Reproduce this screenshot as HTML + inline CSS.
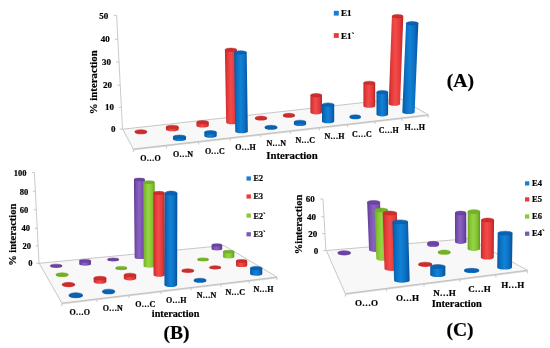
<!DOCTYPE html>
<html><head><meta charset="utf-8"><style>
html,body{margin:0;padding:0;background:#fff;}
svg{display:block;}
text{fill:#000;stroke:#000;stroke-width:0.2px;}
</style></head><body>
<svg width="550" height="348" viewBox="0 0 550 348" style="font-family:'Liberation Serif','Times New Roman',serif;font-weight:bold">
<rect width="550" height="348" fill="#fff"/>
<defs><linearGradient id="gb" x1="0" y1="0" x2="1" y2="0"><stop offset="0" stop-color="#0a56a2"/><stop offset="0.22" stop-color="#0b70c2"/><stop offset="0.48" stop-color="#1282d6"/><stop offset="0.75" stop-color="#0c70c2"/><stop offset="1" stop-color="#094f98"/></linearGradient><linearGradient id="gr" x1="0" y1="0" x2="1" y2="0"><stop offset="0" stop-color="#c22a2a"/><stop offset="0.22" stop-color="#e53b3b"/><stop offset="0.45" stop-color="#f34a4a"/><stop offset="0.75" stop-color="#e43a3a"/><stop offset="1" stop-color="#b82626"/></linearGradient><linearGradient id="gg" x1="0" y1="0" x2="1" y2="0"><stop offset="0" stop-color="#6aa622"/><stop offset="0.22" stop-color="#86c634"/><stop offset="0.45" stop-color="#98d446"/><stop offset="0.75" stop-color="#84c332"/><stop offset="1" stop-color="#5f9a1c"/></linearGradient><linearGradient id="gp" x1="0" y1="0" x2="1" y2="0"><stop offset="0" stop-color="#5f3a94"/><stop offset="0.22" stop-color="#7a52b0"/><stop offset="0.45" stop-color="#8a62c0"/><stop offset="0.75" stop-color="#774fae"/><stop offset="1" stop-color="#563489"/></linearGradient></defs>
<polygon points="133.30,149.00 428.30,114.80 428.30,115.80 133.30,150.00" fill="#dcdcdc" stroke="#c4c4c4" stroke-width="0.5"/><polygon points="122.70,129.20 400.00,98.50 428.30,114.80 133.30,149.00" fill="#f8f8f8" stroke="#b6b6b6" stroke-width="0.75"/><line x1="116.60" y1="15.40" x2="122.50" y2="129.20" stroke="#bdbdbd" stroke-width="0.8"/><line x1="113.80" y1="15.40" x2="116.60" y2="15.40" stroke="#bdbdbd" stroke-width="0.8"/><text x="108.20" y="18.60" font-size="9" text-anchor="end" >50</text><line x1="115.04" y1="39.30" x2="117.84" y2="39.30" stroke="#bdbdbd" stroke-width="0.8"/><text x="109.74" y="41.90" font-size="9" text-anchor="end" >40</text><line x1="116.22" y1="62.00" x2="119.02" y2="62.00" stroke="#bdbdbd" stroke-width="0.8"/><text x="110.92" y="65.20" font-size="9" text-anchor="end" >30</text><line x1="117.42" y1="85.20" x2="120.22" y2="85.20" stroke="#bdbdbd" stroke-width="0.8"/><text x="112.02" y="87.90" font-size="9" text-anchor="end" >20</text><line x1="118.56" y1="107.30" x2="121.36" y2="107.30" stroke="#bdbdbd" stroke-width="0.8"/><text x="114.06" y="109.50" font-size="9" text-anchor="end" >10</text><line x1="119.69" y1="129.10" x2="122.49" y2="129.10" stroke="#bdbdbd" stroke-width="0.8"/><text x="115.39" y="131.80" font-size="9" text-anchor="end" >0</text><text x="0.00" y="0.00" font-size="10.8" text-anchor="middle" transform="translate(97.3,82.2) rotate(-90)">% interaction</text><text x="150.40" y="161.30" font-size="8" text-anchor="middle" >O…O</text><text x="183.00" y="157.00" font-size="8" text-anchor="middle" >O…N</text><text x="214.90" y="154.20" font-size="8" text-anchor="middle" >O…C</text><text x="245.50" y="150.00" font-size="8" text-anchor="middle" >O…H</text><text x="276.30" y="146.20" font-size="8" text-anchor="middle" >N…N</text><text x="305.20" y="142.70" font-size="8" text-anchor="middle" >N…C</text><text x="334.40" y="139.10" font-size="8" text-anchor="middle" >N…H</text><text x="361.90" y="136.50" font-size="8" text-anchor="middle" >C…C</text><text x="388.80" y="133.20" font-size="8" text-anchor="middle" >C…H</text><text x="414.80" y="129.90" font-size="8" text-anchor="middle" >H…H</text><line x1="133.30" y1="150.00" x2="133.30" y2="152.00" stroke="#b0b0b0" stroke-width="0.7"/><line x1="166.50" y1="146.15" x2="166.50" y2="148.15" stroke="#b0b0b0" stroke-width="0.7"/><line x1="198.60" y1="142.43" x2="198.60" y2="144.43" stroke="#b0b0b0" stroke-width="0.7"/><line x1="230.20" y1="138.77" x2="230.20" y2="140.77" stroke="#b0b0b0" stroke-width="0.7"/><line x1="260.70" y1="135.23" x2="260.70" y2="137.23" stroke="#b0b0b0" stroke-width="0.7"/><line x1="290.20" y1="131.81" x2="290.20" y2="133.81" stroke="#b0b0b0" stroke-width="0.7"/><line x1="319.40" y1="128.43" x2="319.40" y2="130.43" stroke="#b0b0b0" stroke-width="0.7"/><line x1="347.40" y1="125.18" x2="347.40" y2="127.18" stroke="#b0b0b0" stroke-width="0.7"/><line x1="375.00" y1="121.98" x2="375.00" y2="123.98" stroke="#b0b0b0" stroke-width="0.7"/><line x1="401.90" y1="118.86" x2="401.90" y2="120.86" stroke="#b0b0b0" stroke-width="0.7"/><line x1="428.30" y1="115.80" x2="428.30" y2="117.80" stroke="#b0b0b0" stroke-width="0.7"/><text x="266.20" y="159.30" font-size="10.8" text-anchor="start" >Interaction</text><rect x="333.8" y="10.8" width="5" height="4.8" fill="#1a7fd4"/><text x="341.10" y="16.30" font-size="9" text-anchor="start" >E1</text><rect x="333.8" y="33.1" width="5" height="4.8" fill="#ee3838"/><text x="341.10" y="38.50" font-size="9" text-anchor="start" >E1`</text><text x="446.80" y="86.60" font-size="19" text-anchor="start" transform="translate(446.8,0) scale(1.03,1) translate(-446.8,0)">(A)</text><path d="M134.75,132.30 L134.75,131.50 L147.05,131.50 L147.05,132.30 A6.15,1.90 0 0 1 134.75,132.30 Z" fill="url(#gr)"/><ellipse cx="140.90" cy="131.50" rx="6.00" ry="1.80" fill="#cc2e2e" stroke="#bc2626" stroke-width="0.5"/><path d="M254.95,118.70 L254.95,117.90 L267.05,117.90 L267.05,118.70 A6.05,1.90 0 0 1 254.95,118.70 Z" fill="url(#gr)"/><ellipse cx="261.00" cy="117.90" rx="5.90" ry="1.80" fill="#cc2e2e" stroke="#bc2626" stroke-width="0.5"/><path d="M283.00,115.90 L283.00,115.10 L294.80,115.10 L294.80,115.90 A5.90,1.90 0 0 1 283.00,115.90 Z" fill="url(#gr)"/><ellipse cx="288.90" cy="115.10" rx="5.75" ry="1.80" fill="#cc2e2e" stroke="#bc2626" stroke-width="0.5"/><path d="M165.90,129.40 L165.90,126.90 L178.70,126.90 L178.70,129.40 A6.40,1.80 0 0 1 165.90,129.40 Z" fill="url(#gr)"/><ellipse cx="172.30" cy="126.90" rx="6.25" ry="1.70" fill="#cc2e2e" stroke="#bc2626" stroke-width="0.5"/><path d="M196.45,125.70 L196.45,122.20 L208.75,122.20 L208.75,125.70 A6.15,1.80 0 0 1 196.45,125.70 Z" fill="url(#gr)"/><ellipse cx="202.60" cy="122.20" rx="6.00" ry="1.70" fill="#cc2e2e" stroke="#bc2626" stroke-width="0.5"/><path d="M226.17,122.50 L224.90,49.80 L236.90,49.80 L238.17,122.50 A6.00,1.80 0 0 1 226.17,122.50 Z" fill="url(#gr)"/><ellipse cx="230.90" cy="49.80" rx="5.85" ry="1.70" fill="#cc2e2e" stroke="#bc2626" stroke-width="0.5"/><path d="M310.40,112.60 L310.40,95.20 L322.00,95.20 L322.00,112.60 A5.80,1.80 0 0 1 310.40,112.60 Z" fill="url(#gr)"/><ellipse cx="316.20" cy="95.20" rx="5.65" ry="1.70" fill="#cc2e2e" stroke="#bc2626" stroke-width="0.5"/><path d="M363.40,106.00 L363.40,82.90 L375.20,82.90 L375.20,106.00 A5.90,1.80 0 0 1 363.40,106.00 Z" fill="url(#gr)"/><ellipse cx="369.30" cy="82.90" rx="5.75" ry="1.70" fill="#cc2e2e" stroke="#bc2626" stroke-width="0.5"/><path d="M388.65,103.90 L391.90,16.20 L403.30,16.20 L400.05,103.90 A5.70,1.80 0 0 1 388.65,103.90 Z" fill="url(#gr)"/><ellipse cx="397.60" cy="16.20" rx="5.55" ry="1.70" fill="#cc2e2e" stroke="#bc2626" stroke-width="0.5"/><path d="M264.75,127.90 L264.75,127.10 L277.25,127.10 L277.25,127.90 A6.25,1.90 0 0 1 264.75,127.90 Z" fill="url(#gb)"/><ellipse cx="271.00" cy="127.10" rx="6.10" ry="1.80" fill="#0c62b2" stroke="#0a56a2" stroke-width="0.5"/><path d="M349.60,117.40 L349.60,116.60 L360.80,116.60 L360.80,117.40 A5.60,1.90 0 0 1 349.60,117.40 Z" fill="url(#gb)"/><ellipse cx="355.20" cy="116.60" rx="5.45" ry="1.80" fill="#0c62b2" stroke="#0a56a2" stroke-width="0.5"/><path d="M173.00,139.30 L173.00,136.80 L186.00,136.80 L186.00,139.30 A6.50,1.80 0 0 1 173.00,139.30 Z" fill="url(#gb)"/><ellipse cx="179.50" cy="136.80" rx="6.35" ry="1.70" fill="#0c62b2" stroke="#0a56a2" stroke-width="0.5"/><path d="M204.30,135.90 L204.30,132.30 L216.70,132.30 L216.70,135.90 A6.20,1.80 0 0 1 204.30,135.90 Z" fill="url(#gb)"/><ellipse cx="210.50" cy="132.30" rx="6.05" ry="1.70" fill="#0c62b2" stroke="#0a56a2" stroke-width="0.5"/><path d="M235.23,131.50 L234.10,52.40 L246.70,52.40 L247.83,131.50 A6.30,1.80 0 0 1 235.23,131.50 Z" fill="url(#gb)"/><ellipse cx="240.40" cy="52.40" rx="6.15" ry="1.70" fill="#0c62b2" stroke="#0a56a2" stroke-width="0.5"/><path d="M293.90,124.20 L293.90,121.90 L306.10,121.90 L306.10,124.20 A6.10,1.80 0 0 1 293.90,124.20 Z" fill="url(#gb)"/><ellipse cx="300.00" cy="121.90" rx="5.95" ry="1.70" fill="#0c62b2" stroke="#0a56a2" stroke-width="0.5"/><path d="M322.00,121.40 L322.00,104.60 L334.20,104.60 L334.20,121.40 A6.10,1.80 0 0 1 322.00,121.40 Z" fill="url(#gb)"/><ellipse cx="328.10" cy="104.60" rx="5.95" ry="1.70" fill="#0c62b2" stroke="#0a56a2" stroke-width="0.5"/><path d="M376.50,114.60 L376.50,92.10 L388.10,92.10 L388.10,114.60 A5.80,1.80 0 0 1 376.50,114.60 Z" fill="url(#gb)"/><ellipse cx="382.30" cy="92.10" rx="5.65" ry="1.70" fill="#0c62b2" stroke="#0a56a2" stroke-width="0.5"/><path d="M402.33,112.20 L406.05,23.30 L418.35,23.30 L414.63,112.20 A6.15,1.80 0 0 1 402.33,112.20 Z" fill="url(#gb)"/><ellipse cx="412.20" cy="23.30" rx="6.00" ry="1.70" fill="#0c62b2" stroke="#0a56a2" stroke-width="0.5"/><polygon points="61.90,303.10 277.00,277.00 277.00,278.00 61.90,304.10" fill="#dcdcdc" stroke="#c4c4c4" stroke-width="0.5"/><polygon points="39.20,263.30 224.00,245.50 277.00,277.00 61.90,303.10" fill="#f8f8f8" stroke="#b6b6b6" stroke-width="0.75"/><line x1="34.40" y1="172.50" x2="39.00" y2="263.30" stroke="#bdbdbd" stroke-width="0.8"/><line x1="31.80" y1="172.50" x2="34.40" y2="172.50" stroke="#bdbdbd" stroke-width="0.8"/><text x="26.60" y="175.50" font-size="8.5" text-anchor="end" >100</text><line x1="32.75" y1="191.30" x2="35.35" y2="191.30" stroke="#bdbdbd" stroke-width="0.8"/><text x="28.15" y="194.80" font-size="8.5" text-anchor="end" >80</text><line x1="33.68" y1="209.70" x2="36.28" y2="209.70" stroke="#bdbdbd" stroke-width="0.8"/><text x="28.28" y="212.70" font-size="8.5" text-anchor="end" >60</text><line x1="34.62" y1="228.20" x2="37.22" y2="228.20" stroke="#bdbdbd" stroke-width="0.8"/><text x="29.92" y="231.20" font-size="8.5" text-anchor="end" >40</text><line x1="35.52" y1="245.90" x2="38.12" y2="245.90" stroke="#bdbdbd" stroke-width="0.8"/><text x="30.92" y="248.90" font-size="8.5" text-anchor="end" >20</text><line x1="36.41" y1="263.40" x2="39.01" y2="263.40" stroke="#bdbdbd" stroke-width="0.8"/><text x="32.61" y="266.40" font-size="8.5" text-anchor="end" >0</text><text x="0.00" y="0.00" font-size="10.5" text-anchor="middle" transform="translate(15.5,234.7) rotate(-90)">% interaction</text><text x="79.70" y="314.70" font-size="8" text-anchor="middle" >O…O</text><text x="112.70" y="310.60" font-size="8" text-anchor="middle" >O…N</text><text x="145.20" y="306.60" font-size="8" text-anchor="middle" >O…C</text><text x="176.20" y="302.50" font-size="8" text-anchor="middle" >O…H</text><text x="206.50" y="298.00" font-size="8" text-anchor="middle" >N…N</text><text x="235.30" y="295.00" font-size="8" text-anchor="middle" >N…C</text><text x="263.50" y="291.70" font-size="8" text-anchor="middle" >N…H</text><line x1="61.90" y1="304.10" x2="61.90" y2="306.10" stroke="#b0b0b0" stroke-width="0.7"/><line x1="97.00" y1="299.84" x2="97.00" y2="301.84" stroke="#b0b0b0" stroke-width="0.7"/><line x1="129.00" y1="295.96" x2="129.00" y2="297.96" stroke="#b0b0b0" stroke-width="0.7"/><line x1="161.00" y1="292.08" x2="161.00" y2="294.08" stroke="#b0b0b0" stroke-width="0.7"/><line x1="191.00" y1="288.44" x2="191.00" y2="290.44" stroke="#b0b0b0" stroke-width="0.7"/><line x1="220.80" y1="284.82" x2="220.80" y2="286.82" stroke="#b0b0b0" stroke-width="0.7"/><line x1="249.20" y1="281.37" x2="249.20" y2="283.37" stroke="#b0b0b0" stroke-width="0.7"/><line x1="277.00" y1="278.00" x2="277.00" y2="280.00" stroke="#b0b0b0" stroke-width="0.7"/><text x="151.80" y="317.00" font-size="10.2" text-anchor="start" >interaction</text><rect x="246.5" y="176.40" width="4.4" height="4.2" fill="#1a7fd4"/><text x="253.60" y="181.40" font-size="8" text-anchor="start" >E2</text><rect x="246.5" y="194.40" width="4.4" height="4.2" fill="#ee3838"/><text x="253.60" y="199.40" font-size="8" text-anchor="start" >E3</text><rect x="246.5" y="213.50" width="4.4" height="4.2" fill="#8cc63a"/><text x="253.60" y="218.50" font-size="8" text-anchor="start" >E2`</text><rect x="246.5" y="232.20" width="4.4" height="4.2" fill="#7d55b5"/><text x="253.60" y="237.20" font-size="8" text-anchor="start" >E3`</text><text x="163.40" y="339.00" font-size="19" text-anchor="start" transform="translate(163.4,0) scale(1.03,1) translate(-163.4,0)">(B)</text><path d="M50.30,266.40 L50.30,265.60 L62.10,265.60 L62.10,266.40 A5.90,1.55 0 0 1 50.30,266.40 Z" fill="url(#gp)"/><ellipse cx="56.20" cy="265.60" rx="5.75" ry="1.45" fill="#6c44a4" stroke="#5e3892" stroke-width="0.5"/><path d="M79.25,264.23 L79.25,260.77 L90.95,260.77 L90.95,264.23 A5.85,1.47 0 0 1 79.25,264.23 Z" fill="url(#gp)"/><ellipse cx="85.10" cy="260.77" rx="5.70" ry="1.37" fill="#6c44a4" stroke="#5e3892" stroke-width="0.5"/><path d="M107.40,260.10 L107.40,259.30 L119.00,259.30 L119.00,260.10 A5.80,1.40 0 0 1 107.40,260.10 Z" fill="url(#gp)"/><ellipse cx="113.20" cy="259.30" rx="5.65" ry="1.30" fill="#6c44a4" stroke="#5e3892" stroke-width="0.5"/><path d="M134.67,257.70 L133.90,179.40 L144.90,179.40 L145.67,257.70 A5.50,1.40 0 0 1 134.67,257.70 Z" fill="url(#gp)"/><ellipse cx="139.40" cy="179.40" rx="5.35" ry="1.30" fill="#6c44a4" stroke="#5e3892" stroke-width="0.5"/><path d="M211.60,249.00 L211.60,245.00 L222.20,245.00 L222.20,249.00 A5.30,1.40 0 0 1 211.60,249.00 Z" fill="url(#gp)"/><ellipse cx="216.90" cy="245.00" rx="5.15" ry="1.30" fill="#6c44a4" stroke="#5e3892" stroke-width="0.5"/><path d="M55.90,275.30 L55.90,274.50 L68.30,274.50 L68.30,275.30 A6.20,1.80 0 0 1 55.90,275.30 Z" fill="url(#gg)"/><ellipse cx="62.10" cy="274.50" rx="6.05" ry="1.70" fill="#74b22a" stroke="#66a020" stroke-width="0.5"/><path d="M115.50,268.70 L115.50,267.90 L127.10,267.90 L127.10,268.70 A5.80,1.61 0 0 1 115.50,268.70 Z" fill="url(#gg)"/><ellipse cx="121.30" cy="267.90" rx="5.65" ry="1.51" fill="#74b22a" stroke="#66a020" stroke-width="0.5"/><path d="M143.62,266.18 L143.10,182.22 L154.70,182.22 L155.22,266.18 A5.80,1.52 0 0 1 143.62,266.18 Z" fill="url(#gg)"/><ellipse cx="148.90" cy="182.22" rx="5.65" ry="1.42" fill="#74b22a" stroke="#66a020" stroke-width="0.5"/><path d="M197.30,260.00 L197.30,259.20 L208.70,259.20 L208.70,260.00 A5.70,1.40 0 0 1 197.30,260.00 Z" fill="url(#gg)"/><ellipse cx="203.00" cy="259.20" rx="5.55" ry="1.30" fill="#74b22a" stroke="#66a020" stroke-width="0.5"/><path d="M223.10,257.10 L223.10,251.60 L234.30,251.60 L234.30,257.10 A5.60,1.40 0 0 1 223.10,257.10 Z" fill="url(#gg)"/><ellipse cx="228.70" cy="251.60" rx="5.45" ry="1.30" fill="#74b22a" stroke="#66a020" stroke-width="0.5"/><path d="M62.00,285.10 L62.00,284.30 L75.00,284.30 L75.00,285.10 A6.50,2.07 0 0 1 62.00,285.10 Z" fill="url(#gr)"/><ellipse cx="68.50" cy="284.30" rx="6.35" ry="1.97" fill="#cc2e2e" stroke="#bc2626" stroke-width="0.5"/><path d="M93.60,281.83 L93.60,278.17 L106.40,278.17 L106.40,281.83 A6.40,1.97 0 0 1 93.60,281.83 Z" fill="url(#gr)"/><ellipse cx="100.00" cy="278.17" rx="6.25" ry="1.87" fill="#cc2e2e" stroke="#bc2626" stroke-width="0.5"/><path d="M123.80,278.53 L123.80,274.97 L136.20,274.97 L136.20,278.53 A6.20,1.87 0 0 1 123.80,278.53 Z" fill="url(#gr)"/><ellipse cx="130.00" cy="274.97" rx="6.05" ry="1.77" fill="#cc2e2e" stroke="#bc2626" stroke-width="0.5"/><path d="M153.54,274.93 L153.35,192.97 L164.65,192.97 L164.84,274.93 A5.65,1.77 0 0 1 153.54,274.93 Z" fill="url(#gr)"/><ellipse cx="159.00" cy="192.97" rx="5.50" ry="1.67" fill="#cc2e2e" stroke="#bc2626" stroke-width="0.5"/><path d="M181.70,271.20 L181.70,270.40 L193.90,270.40 L193.90,271.20 A6.10,1.68 0 0 1 181.70,271.20 Z" fill="url(#gr)"/><ellipse cx="187.80" cy="270.40" rx="5.95" ry="1.58" fill="#cc2e2e" stroke="#bc2626" stroke-width="0.5"/><path d="M209.35,268.00 L209.35,267.20 L221.05,267.20 L221.05,268.00 A5.85,1.59 0 0 1 209.35,268.00 Z" fill="url(#gr)"/><ellipse cx="215.20" cy="267.20" rx="5.70" ry="1.49" fill="#cc2e2e" stroke="#bc2626" stroke-width="0.5"/><path d="M236.00,265.59 L236.00,261.01 L247.20,261.01 L247.20,265.59 A5.60,1.51 0 0 1 236.00,265.59 Z" fill="url(#gr)"/><ellipse cx="241.60" cy="261.01" rx="5.45" ry="1.41" fill="#cc2e2e" stroke="#bc2626" stroke-width="0.5"/><path d="M68.80,295.80 L68.80,295.00 L82.80,295.00 L82.80,295.80 A7.00,2.36 0 0 1 68.80,295.80 Z" fill="url(#gb)"/><ellipse cx="75.80" cy="295.00" rx="6.85" ry="2.26" fill="#0c62b2" stroke="#0a56a2" stroke-width="0.5"/><path d="M102.20,292.10 L102.20,291.30 L115.00,291.30 L115.00,292.10 A6.40,2.26 0 0 1 102.20,292.10 Z" fill="url(#gb)"/><ellipse cx="108.60" cy="291.30" rx="6.25" ry="2.16" fill="#0c62b2" stroke="#0a56a2" stroke-width="0.5"/><path d="M164.44,285.04 L164.65,193.06 L177.35,193.06 L177.14,285.04 A6.35,2.06 0 0 1 164.44,285.04 Z" fill="url(#gb)"/><ellipse cx="171.00" cy="193.06" rx="6.20" ry="1.96" fill="#0c62b2" stroke="#0a56a2" stroke-width="0.5"/><path d="M193.80,280.90 L193.80,280.10 L206.20,280.10 L206.20,280.90 A6.20,1.95 0 0 1 193.80,280.90 Z" fill="url(#gb)"/><ellipse cx="200.00" cy="280.10" rx="6.05" ry="1.85" fill="#0c62b2" stroke="#0a56a2" stroke-width="0.5"/><path d="M250.10,274.05 L250.10,268.05 L262.30,268.05 L262.30,274.05 A6.10,1.75 0 0 1 250.10,274.05 Z" fill="url(#gb)"/><ellipse cx="256.20" cy="268.05" rx="5.95" ry="1.65" fill="#0c62b2" stroke="#0a56a2" stroke-width="0.5"/><polygon points="345.30,293.60 527.40,270.20 527.40,271.20 345.30,294.60" fill="#dcdcdc" stroke="#c4c4c4" stroke-width="0.5"/><polygon points="326.30,250.50 469.00,238.60 527.40,270.20 345.30,293.60" fill="#f8f8f8" stroke="#b6b6b6" stroke-width="0.75"/><line x1="323.00" y1="198.90" x2="325.90" y2="250.50" stroke="#bdbdbd" stroke-width="0.8"/><line x1="320.21" y1="199.00" x2="323.01" y2="199.00" stroke="#bdbdbd" stroke-width="0.8"/><text x="314.81" y="202.10" font-size="9" text-anchor="end" >60</text><line x1="321.20" y1="216.70" x2="324.00" y2="216.70" stroke="#bdbdbd" stroke-width="0.8"/><text x="316.10" y="219.80" font-size="9" text-anchor="end" >40</text><line x1="322.15" y1="233.60" x2="324.95" y2="233.60" stroke="#bdbdbd" stroke-width="0.8"/><text x="317.15" y="236.90" font-size="9" text-anchor="end" >20</text><line x1="323.11" y1="250.60" x2="325.91" y2="250.60" stroke="#bdbdbd" stroke-width="0.8"/><text x="318.31" y="253.70" font-size="9" text-anchor="end" >0</text><text x="0.00" y="0.00" font-size="10.5" text-anchor="middle" transform="translate(301.5,224.5) rotate(-90)">%interaction</text><text x="366.60" y="305.50" font-size="9" text-anchor="middle" >O…O</text><text x="407.40" y="300.70" font-size="9" text-anchor="middle" >O…H</text><text x="444.40" y="296.00" font-size="9" text-anchor="middle" >N…H</text><text x="479.40" y="291.80" font-size="9" text-anchor="middle" >C…H</text><text x="512.80" y="287.60" font-size="9" text-anchor="middle" >H…H</text><line x1="345.30" y1="294.60" x2="345.30" y2="296.60" stroke="#b0b0b0" stroke-width="0.7"/><line x1="386.60" y1="289.29" x2="386.60" y2="291.29" stroke="#b0b0b0" stroke-width="0.7"/><line x1="424.00" y1="284.49" x2="424.00" y2="286.49" stroke="#b0b0b0" stroke-width="0.7"/><line x1="460.00" y1="279.86" x2="460.00" y2="281.86" stroke="#b0b0b0" stroke-width="0.7"/><line x1="495.80" y1="275.26" x2="495.80" y2="277.26" stroke="#b0b0b0" stroke-width="0.7"/><line x1="527.40" y1="271.20" x2="527.40" y2="273.20" stroke="#b0b0b0" stroke-width="0.7"/><text x="431.70" y="307.40" font-size="10.5" text-anchor="start" >Interaction</text><rect x="525.0" y="181.30" width="4.3" height="4.2" fill="#1a7fd4"/><text x="532.10" y="186.00" font-size="8.5" text-anchor="start" >E4</text><rect x="525.0" y="197.30" width="4.3" height="4.2" fill="#ee3838"/><text x="532.10" y="202.00" font-size="8.5" text-anchor="start" >E5</text><rect x="525.0" y="214.40" width="4.3" height="4.2" fill="#8cc63a"/><text x="532.10" y="219.10" font-size="8.5" text-anchor="start" >E6</text><rect x="525.0" y="231.60" width="4.3" height="4.2" fill="#7d55b5"/><text x="532.10" y="236.30" font-size="8.5" text-anchor="start" >E4`</text><text x="446.40" y="336.20" font-size="19" text-anchor="start" transform="translate(446.4,0) scale(1.03,1) translate(-446.4,0)">(C)</text><path d="M337.75,253.40 L337.75,252.60 L350.65,252.60 L350.65,253.40 A6.45,2.00 0 0 1 337.75,253.40 Z" fill="url(#gp)"/><ellipse cx="344.20" cy="252.60" rx="6.30" ry="1.90" fill="#6c44a4" stroke="#5e3892" stroke-width="0.5"/><path d="M369.05,249.90 L367.15,202.30 L380.05,202.30 L381.95,249.90 A6.45,2.00 0 0 1 369.05,249.90 Z" fill="url(#gp)"/><ellipse cx="373.60" cy="202.30" rx="6.30" ry="1.90" fill="#6c44a4" stroke="#5e3892" stroke-width="0.5"/><path d="M427.25,245.10 L427.25,243.20 L438.95,243.20 L438.95,245.10 A5.85,2.00 0 0 1 427.25,245.10 Z" fill="url(#gp)"/><ellipse cx="433.10" cy="243.20" rx="5.70" ry="1.90" fill="#6c44a4" stroke="#5e3892" stroke-width="0.5"/><path d="M455.07,241.90 L454.95,213.00 L466.25,213.00 L466.37,241.90 A5.65,2.00 0 0 1 455.07,241.90 Z" fill="url(#gp)"/><ellipse cx="460.60" cy="213.00" rx="5.50" ry="1.90" fill="#6c44a4" stroke="#5e3892" stroke-width="0.5"/><path d="M376.33,258.80 L374.55,210.00 L388.05,210.00 L389.83,258.80 A6.75,2.00 0 0 1 376.33,258.80 Z" fill="url(#gg)"/><ellipse cx="381.30" cy="210.00" rx="6.60" ry="1.90" fill="#74b22a" stroke="#66a020" stroke-width="0.5"/><path d="M437.90,252.80 L437.90,252.00 L450.50,252.00 L450.50,252.80 A6.30,2.00 0 0 1 437.90,252.80 Z" fill="url(#gg)"/><ellipse cx="444.20" cy="252.00" rx="6.15" ry="1.90" fill="#74b22a" stroke="#66a020" stroke-width="0.5"/><path d="M467.64,248.90 L467.70,211.60 L480.10,211.60 L480.04,248.90 A6.20,2.00 0 0 1 467.64,248.90 Z" fill="url(#gg)"/><ellipse cx="473.90" cy="211.60" rx="6.05" ry="1.90" fill="#74b22a" stroke="#66a020" stroke-width="0.5"/><path d="M384.53,268.90 L382.70,213.00 L396.90,213.00 L398.73,268.90 A7.10,2.00 0 0 1 384.53,268.90 Z" fill="url(#gr)"/><ellipse cx="389.80" cy="213.00" rx="6.95" ry="1.90" fill="#cc2e2e" stroke="#bc2626" stroke-width="0.5"/><path d="M418.35,264.90 L418.35,264.10 L432.05,264.10 L432.05,264.90 A6.85,2.00 0 0 1 418.35,264.90 Z" fill="url(#gr)"/><ellipse cx="425.20" cy="264.10" rx="6.70" ry="1.90" fill="#cc2e2e" stroke="#bc2626" stroke-width="0.5"/><path d="M480.87,257.50 L481.15,220.00 L494.05,220.00 L493.77,257.50 A6.45,2.00 0 0 1 480.87,257.50 Z" fill="url(#gr)"/><ellipse cx="487.60" cy="220.00" rx="6.30" ry="1.90" fill="#cc2e2e" stroke="#bc2626" stroke-width="0.5"/><path d="M394.08,280.70 L392.40,221.80 L408.00,221.80 L409.68,280.70 A7.80,2.00 0 0 1 394.08,280.70 Z" fill="url(#gb)"/><ellipse cx="400.20" cy="221.80" rx="7.65" ry="1.90" fill="#0c62b2" stroke="#0a56a2" stroke-width="0.5"/><path d="M430.25,275.10 L430.25,266.50 L445.35,266.50 L445.35,275.10 A7.55,2.00 0 0 1 430.25,275.10 Z" fill="url(#gb)"/><ellipse cx="437.80" cy="266.50" rx="7.40" ry="1.90" fill="#0c62b2" stroke="#0a56a2" stroke-width="0.5"/><path d="M464.05,271.00 L464.05,270.20 L479.15,270.20 L479.15,271.00 A7.55,2.00 0 0 1 464.05,271.00 Z" fill="url(#gb)"/><ellipse cx="471.60" cy="270.20" rx="7.40" ry="1.90" fill="#0c62b2" stroke="#0a56a2" stroke-width="0.5"/><path d="M497.19,267.50 L497.70,233.10 L512.50,233.10 L511.99,267.50 A7.40,2.00 0 0 1 497.19,267.50 Z" fill="url(#gb)"/><ellipse cx="505.10" cy="233.10" rx="7.25" ry="1.90" fill="#0c62b2" stroke="#0a56a2" stroke-width="0.5"/>
</svg></body></html>
